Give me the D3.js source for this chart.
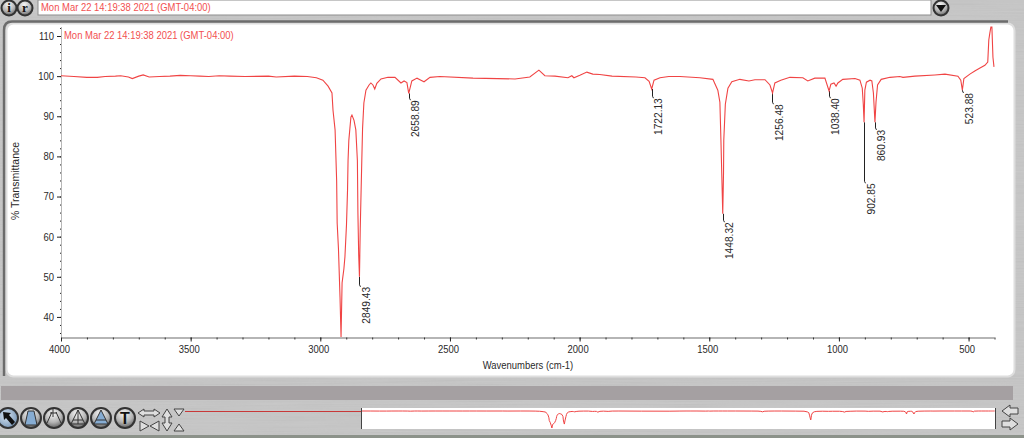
<!DOCTYPE html>
<html>
<head>
<meta charset="utf-8">
<title>FTIR spectrum</title>
<script src="https://cdn.jsdelivr.net/npm/d3@7"></script>
<style>
	html,body { margin:0; padding:0; background:#c6c6c6; overflow:hidden; }
	svg { display:block; }
	text { font-family:"Liberation Sans",Arial,sans-serif; font-size:10.5px; fill:#2a2a2a; }
</style>
</head>
<body>
<div id="chart"></div>
<script>
var timestamp = "Mon Mar 22 14:19:38 2021 (GMT-04:00)";

// spectrum, wavenumbers and %T go pair by pair
var wavenumbers = [4000,3950,3900,3860,3830,3790,3770,3740,3725,3700,3683,3660,3620,3580,3540,3500,3465,3430,3390,3350,3290,3200,3170,3100,3050,3015,2990,2970,
	2955,2951,2943,2937,2935,2930,2924,2920,2916,2909,2905,2899,2895,2893,2890,2882,2878,2870,2863,2857,2855,2852,2849,2846,2840,2837,2832,2824,2812,2805,2797,2790,2782,2766,2739,2712,2689,2677,2666,2659,2647,2627,2612,2600,2577,2539,
	2411,2249,2192,2157,2134,2095,2045,2030,2022,1999,1972,1949,1922,1875,1783,1748,1732,1722,1713,1690,1656,1613,
	1536,1486,1467,1459,1455,1448,1445,1444,1438,1428,1413,1382,1347,1324,1285,1266,1256,1247,1224,1189,1139,1120,1093,1054,1038,1031,1019,1011,1004,985,938,919,910,906,903,900,894,880,873,867,861,857,851,837,803,765,
	753,707,630,591,541,530,524,518,495,476,456,437,426,422,418,414,410,406,402];
var transmittance = [100.1,99.9,99.7,99.7,99.9,100,100.1,99.8,99.4,100,100.3,99.8,99.9,100,100.2,100.1,100,99.9,100.1,100,99.9,100,99.8,100,99.9,99.6,99,97.5,
	95.8,91.5,86.6,74,63.4,57,45,35,48.5,52,55,63,71.6,79,84,89.8,90.3,89,86.6,79,66,55.5,50,62,79,87,93.3,96.5,97.8,98.3,97.8,96.8,98.2,99.3,99.7,99.7,98.3,98.8,98.4,95.7,98.8,99.5,99,98.6,99.7,99.9,
	99.5,99.3,99.8,101.5,100.1,100,99.6,100.1,99.6,100.2,101,100.5,100.4,100,99.8,99.6,98.7,96.8,99,99.6,99.9,99.9,
	99.6,99.2,96.5,93.5,84,65.7,75.9,84,93,97,98.6,99.2,98.8,99.1,99.1,97.8,95.8,98.3,99,99.7,99.6,98.8,99.5,99.5,96.3,98,98.3,97.5,98.3,99.2,99.4,99,97,93,88.5,96.5,98.5,99,98.8,95.8,88.5,93.5,97.8,99.2,99.7,99.9,
	99.7,100,100.3,100.5,100,99,96.5,99.4,100.5,101.3,102,102.7,103.5,109,110.7,112.2,112.2,104.7,102.3];

// picked peaks and where their leaders stop (in %T)
var peakWavenumbers = [2849.43,2658.89,1722.13,1448.32,1256.48,1038.40,902.85,860.93,523.88];
var peakValues = [50,95.7,96.8,65.7,95.8,96.3,88.5,88.5,96.5];
var peakLeaderEnds = [47.5,94,94.5,63.6,93,94.5,73.3,86.6,95.8];

var yTicks = [40,50,60,70,80,90,100,110];
var xTicks = [4000,3500,3000,2500,2000,1500,1000,500];

var spectrum = wavenumbers.map(function (w,i) { return [w,transmittance[i]]; });

var width = 1024, height = 438;
var squeezeX = 0.9; // the screenshot is a bit narrower than it is tall

var svg = d3.select("#chart").append("svg").attr("width",width).attr("height",height);
var defs = svg.append("defs");

var knob = defs.append("radialGradient").attr("id","knob").attr("cx","45%").attr("cy","28%").attr("r","80%");
knob.append("stop").attr("offset","0").attr("stop-color","#f6f6f6");
knob.append("stop").attr("offset","0.55").attr("stop-color","#b4b4b4");
knob.append("stop").attr("offset","1").attr("stop-color","#4c4c4c");

var knobBlue = defs.append("radialGradient").attr("id","knobBlue").attr("cx","40%").attr("cy","40%").attr("r","70%");
knobBlue.append("stop").attr("offset","0").attr("stop-color","#d6e4f2");
knobBlue.append("stop").attr("offset","1").attr("stop-color","#6f8fb0");

var brushed = defs.append("filter").attr("id","brushed").attr("x",0).attr("y",0).attr("width","100%").attr("height","100%");
brushed.append("feTurbulence").attr("type","fractalNoise").attr("baseFrequency","0.012 0.7").attr("numOctaves",2).attr("seed",3);
brushed.append("feColorMatrix").attr("type","saturate").attr("values",0);

// shrink horizontal text sideways
function squeeze(sel) {
	sel.each(function () {
		this.setAttribute("textLength",this.getComputedTextLength() * squeezeX);
		this.setAttribute("lengthAdjust","spacingAndGlyphs");
	});
	return sel;
}

// window chrome
svg.append("rect").attr("width",width).attr("height",height).attr("fill","#c6c6c6");
svg.append("rect").attr("width",width).attr("height",height).attr("filter","url(#brushed)").attr("opacity",0.14);
svg.append("rect").attr("x",38).attr("y",0).attr("width",893).attr("height",15).attr("fill","#fff").attr("stroke","#8d8d8d");
squeeze(svg.append("text").attr("x",41).attr("y",11).style("fill","#f25050").text(timestamp));

function button(g,cx,cy,r,fill) {
	g.append("circle").attr("cx",cx).attr("cy",cy).attr("r",r).attr("fill",fill || "url(#knob)").attr("stroke","#333").attr("stroke-width",2);
}
button(svg,9,8,7.5);
button(svg,25,8,7.5);
button(svg,941,8,7.5);
svg.append("text").attr("x",9).attr("y",12).attr("text-anchor","middle").style("font","bold 13px 'Liberation Serif',serif").style("fill","#111").text("i");
svg.append("text").attr("x",25).attr("y",12).attr("text-anchor","middle").style("font","bold 13px 'Liberation Serif',serif").style("fill","#111").text("r");
svg.append("path").attr("d","M936,5H946L941,12Z").attr("fill","#111");

// main panel: dark bevel on the top and left only
svg.append("rect").attr("x",6.5).attr("y",23.5).attr("width",1008).attr("height",353).attr("rx",7).attr("fill","#fff").attr("stroke","#dedede").attr("stroke-width",2);
svg.append("path").attr("d","M4,376V30Q4,21.5 12,21.5H1008").attr("fill","none").attr("stroke","#6c6c6c").attr("stroke-width",2.4);

var x = d3.scaleLinear().domain([4000,400]).range([61,994.5]);
var y = d3.scaleLinear().domain([35,110]).range([337,36]);
var line = d3.line().x(function (d) { return x(d[0]); }).y(function (d) { return y(d[1]); });

var plot = svg.append("g");

// minor ticks first so the major ones draw over them
var yMinor = d3.axisLeft(y).tickValues(d3.range(36,114,2)).tickSize(1).tickFormat("");
var xMinor = d3.axisBottom(x).tickValues(d3.range(400,4000,100)).tickSize(2).tickFormat("");
var yAxis = d3.axisLeft(y).tickValues(yTicks).tickSize(4).tickPadding(3);
var xAxis = d3.axisBottom(x).tickValues(xTicks).tickSize(4).tickPadding(4).tickFormat(d3.format("d"));

var gy0 = plot.append("g").attr("transform","translate(61,0)").call(yMinor);
gy0.select(".domain").attr("d","M0.5,27V337").attr("stroke","#b8b8b8");
gy0.selectAll(".tick line").attr("stroke","#222");
var gx0 = plot.append("g").attr("transform","translate(0,337.5)").call(xMinor);
gx0.select(".domain").attr("d","M61,0.5H994.5").attr("stroke","#b5b5b5").attr("stroke-width",2);
gx0.selectAll(".tick line").attr("stroke","#333");

var gy = plot.append("g").attr("transform","translate(61,0)").call(yAxis);
gy.select(".domain").remove();
gy.selectAll(".tick line").attr("stroke","#222");
gy.selectAll("text").style("font-size","10.5px").style("font-family","'Liberation Sans',Arial,sans-serif");
squeeze(gy.selectAll("text"));
var gx = plot.append("g").attr("transform","translate(-2,337.5)").call(xAxis);
gx.select(".domain").remove();
gx.selectAll(".tick line").attr("transform","translate(2,0)").attr("stroke","#222");
gx.selectAll("text").style("font-size","10.5px").style("font-family","'Liberation Sans',Arial,sans-serif");
squeeze(gx.selectAll("text"));

squeeze(plot.append("text").attr("x",528).attr("y",369).attr("text-anchor","middle").text("Wavenumbers (cm-1)"));
plot.append("text").attr("transform","translate(19,181) rotate(-90)").attr("text-anchor","middle").text("% Transmittance");
squeeze(plot.append("text").attr("x",64).attr("y",39).style("fill","#f25050").text(timestamp));

// peak leaders and labels
peakWavenumbers.forEach(function (p,i) {
	var px = Math.round(x(p)) + 0.5, top = y(peakValues[i]), end = y(peakLeaderEnds[i]);
	plot.append("path").attr("fill","none").attr("stroke","#222")
		.attr("d","M" + px + "," + top + "V" + (end - 2) + "L" + (px + 1) + "," + end);
	plot.append("text").attr("transform","translate(" + (x(p) + 10.5) + "," + end + ") rotate(-90)")
		.attr("text-anchor","end").style("font-size","10.2px").text(p.toFixed(2));
});

plot.append("path").datum(spectrum).attr("d",line).attr("fill","none").attr("stroke","#f04444").attr("stroke-width",1.1);

// bottom strip
svg.append("rect").attr("x",1).attr("y",386).attr("width",1012).attr("height",14).attr("fill","#a5a0a2");
svg.append("rect").attr("x",0).attr("y",435).attr("width",width).attr("height",3).attr("fill","#8c928a");

// overview of the same spectrum
var xOver = d3.scaleLinear().domain([4000,400]).range([362,995]);
var yOver = d3.scaleLinear().domain([35,100]).range([428,411]).clamp(true);
var lineOver = d3.line().x(function (d) { return xOver(d[0]); }).y(function (d) { return yOver(d[1]); });
svg.append("rect").attr("x",362).attr("y",408).attr("width",633).attr("height",21).attr("fill","#fff");
svg.append("path").attr("d","M185,411.5H362").attr("stroke","#c83838");
svg.append("path").attr("d","M361.5,408V429M995.5,408V429").attr("stroke","#444");
svg.append("path").datum(spectrum).attr("d",lineOver).attr("fill","none").attr("stroke","#f04444").attr("stroke-width",1);

// tool buttons
var toolX = [8,31,54,78,101,125];
toolX.forEach(function (cx,i) {
	button(svg,cx,418,10,i === 0 ? "url(#knobBlue)" : null);
	var g = svg.append("g").attr("transform","translate(" + cx + ",418)");
	if (i === 0) {
		g.append("path").attr("d","M-5,-6L3,-5L1,-3L7,4L4,7L-2,0L-4,2Z").attr("fill","#111");
	} else if (i === 1) {
		g.append("path").attr("d","M-3,-7H3L6,7H-6Z").attr("fill","#86acd2").attr("stroke","#333");
	} else if (i === 2) {
		g.append("path").attr("d","M-1,-9V-1M-4,-5H3M-7,5L-2,-6M7,5L2,-6").attr("fill","none").attr("stroke","#333");
	} else if (i === 3) {
		g.append("path").attr("d","M0,-8L7,6H-7ZM0,-8V6M-5,2H5").attr("fill","none").attr("stroke","#333");
	} else if (i === 4) {
		g.append("path").attr("d","M0,-8L7,6H-7Z").attr("fill","#86acd2").attr("stroke","#333");
		g.append("path").attr("d","M-5,2H5").attr("stroke","#333");
	} else {
		g.append("text").attr("y",6).attr("text-anchor","middle").style("font","bold 16px 'Liberation Sans',sans-serif").style("fill","#111").text("T");
	}
});

// zoom arrows
var arrows = ["M138,413L144,409V411H154V409L160,413L154,417V415H144V417Z",
	"M140,421L149,426L140,431Z","M159,421L150,426L159,431Z",
	"M162,417L167,409L172,417H169V423H172L167,431L162,423H165V417Z",
	"M174,409H184L179,416Z","M174,431H184L179,424Z",
	"M1002,411L1010,405V408H1018V414H1010V417Z","M1018,424L1010,418V421H1002V427H1010V430Z"];
svg.selectAll("path.arrow").data(arrows).enter().append("path").attr("class","arrow")
	.attr("d",function (d) { return d; }).attr("fill","#dedede").attr("stroke","#444");
</script>
</body>
</html>
